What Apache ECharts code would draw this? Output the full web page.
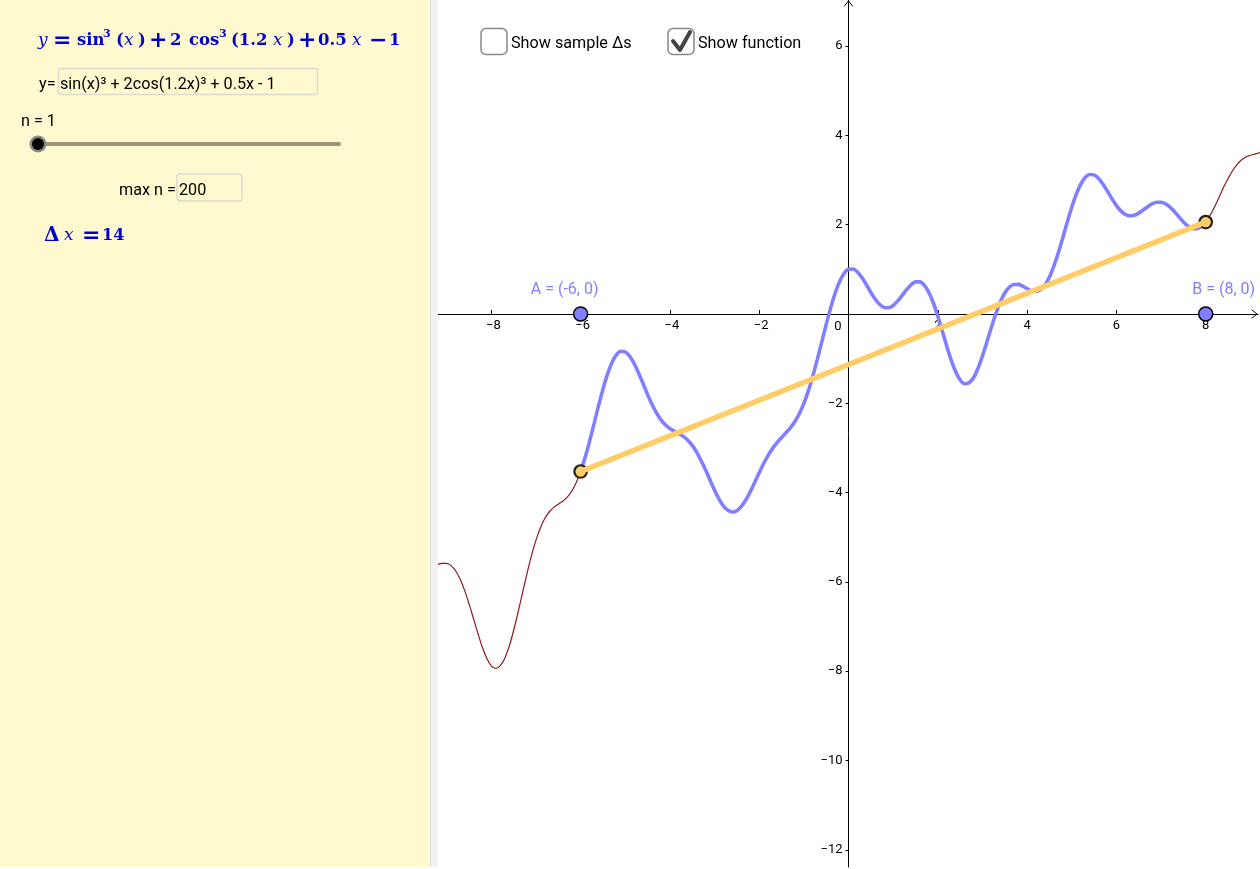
<!DOCTYPE html>
<html>
<head>
<meta charset="utf-8">
<style>html,body{margin:0;padding:0;background:#fff}#c{width:1260px;height:869px}</style>
<script src="https://cdn.jsdelivr.net/npm/echarts@6/dist/echarts.min.js"></script>
</head>
<body>
<div id="c"></div>
<script>
// Values
const xs = [-9.3,-9.2,-9.1,-9,-8.9,-8.8,-8.7,-8.6,-8.5,-8.4,-8.3,-8.2,-8.1,-8,-7.9,-7.8,-7.7,-7.6,-7.5,-7.4,-7.3,-7.2,-7.1,-7,
 -6.9,-6.8,-6.7,-6.6,-6.5,-6.4,-6.3,-6.2,-6.1,-6,-5.9,-5.8,-5.7,-5.6,-5.5,-5.4,-5.3,-5.2,-5.1,-5,
 -4.9,-4.8,-4.7,-4.6,-4.5,-4.4,-4.3,-4.2,-4.1,-4,-3.9,-3.8,-3.7,-3.6,-3.5,-3.4,-3.3,-3.2,-3.1,-3,
 -2.9,-2.8,-2.7,-2.6,-2.5,-2.4,-2.3,-2.2,-2.1,-2,-1.9,-1.8,-1.7,-1.6,-1.5,-1.4,-1.3,-1.2,-1.1,-1,
 -0.9,-0.8,-0.7,-0.6,-0.5,-0.4,-0.3,-0.2,-0.1,0,
 0.1,0.2,0.3,0.4,0.5,0.6,0.7,0.8,0.9,1,1.1,1.2,1.3,1.4,1.5,1.6,1.7,1.8,1.9,2,
 2.1,2.2,2.3,2.4,2.5,2.6,2.7,2.8,2.9,3,3.1,3.2,3.3,3.4,3.5,3.6,3.7,3.8,3.9,4,
 4.1,4.2,4.3,4.4,4.5,4.6,4.7,4.8,4.9,5,5.1,5.2,5.3,5.4,5.5,5.6,5.7,5.8,5.9,6,
 6.1,6.2,6.3,6.4,6.5,6.6,6.7,6.8,6.9,7,7.1,7.2,7.3,7.4,7.5,7.6,7.7,7.8,7.9,8,
 8.1,8.2,8.3,8.4,8.5,8.6,8.7,8.8,8.9,9,9.1,9.2,9.3];
const ys = [-5.643,-5.611,-5.584,-5.585,-5.636,-5.75,-5.937,-6.185,-6.488,-6.821,-7.155,-7.465,-7.714,-7.879,-7.938,-7.877,-7.714,-7.444,-7.088,-6.677,-6.24,-5.81,-5.408,-5.064,
 -4.785,-4.575,-4.429,-4.331,-4.26,-4.192,-4.101,-3.969,-3.779,-3.528,-3.215,-2.853,-2.46,-2.06,-1.683,-1.352,-1.09,-0.917,-0.835,-0.847,
 -0.946,-1.112,-1.326,-1.561,-1.805,-2.029,-2.218,-2.371,-2.484,-2.565,-2.625,-2.678,-2.74,-2.826,-2.943,-3.095,-3.287,-3.496,-3.722,-3.946,
 -4.145,-4.305,-4.397,-4.436,-4.405,-4.31,-4.166,-3.978,-3.768,-3.554,-3.348,-3.167,-3.01,-2.879,-2.766,-2.66,-2.545,-2.406,-2.227,-2.001,
 -1.722,-1.392,-1.022,-0.63,-0.236,0.137,0.464,0.725,0.906,1,
 1.008,0.941,0.816,0.655,0.484,0.33,0.212,0.146,0.14,0.191,0.289,0.414,0.545,0.654,0.72,0.719,0.64,0.481,0.246,-0.05,
 -0.382,-0.72,-1.036,-1.294,-1.477,-1.562,-1.541,-1.429,-1.217,-0.94,-0.622,-0.296,0.005,0.271,0.471,0.6,0.662,0.664,0.625,0.567,
 0.52,0.505,0.544,0.647,0.827,1.077,1.374,1.71,2.058,2.389,2.677,2.903,3.056,3.124,3.115,3.036,2.906,2.747,2.581,2.428,
 2.309,2.229,2.199,2.212,2.26,2.329,2.403,2.467,2.503,2.504,2.466,2.393,2.29,2.175,2.062,1.97,1.916,1.909,1.956,2.059,
 2.21,2.401,2.613,2.838,3.03,3.207,3.347,3.45,3.516,3.555,3.582,3.611,3.661];
const intervalStart = -6;
const intervalEnd = 8;
const startY = -3.528;
const endY = 2.059;
const xTicks = [-8,-6,-4,-2,2,4,6,8];
const yTicks = [-12,-10,-8,-6,-4,-2,2,4,6];
const axisPoints = [["A = (-6, 0)",-6,0],["B = (8, 0)",8,0]];

const curve = xs.map((x,i)=>[x,ys[i]]);
const sampled = curve.filter(p=>p[0]>=intervalStart && p[0]<=intervalEnd);

const RB = 'Roboto, sans-serif';
const SERIF = '"DejaVu Serif", serif';
const BLUE = '#0000cc';
function txt(x,y,s,o){o=o||{};return {type:'text',x:x,y:y+2,z:50,silent:true,style:{text:s,fill:o.fill||'#000',
  font:(o.style||'')+' '+(o.weight||'')+' '+(o.size||16.2)+'px '+(o.family||RB),verticalAlign:'middle',align:o.align||'left'}};}
function m(x,s,o){return txt(x,o&&o.y||39,s,Object.assign({fill:BLUE,family:SERIF,weight:'bold',size:16.5},o||{}));}
function mi(x,s,o){return m(x,s,Object.assign({style:'italic',weight:'normal',size:17},o||{}));}
function op(x,s,o){return m(x,s,Object.assign({size:22},o||{}));}
function box(x,y,w,h,r,st,lw){return {type:'rect',z:45,silent:true,shape:{x:x,y:y,width:w,height:h,r:r},style:{fill:'rgba(0,0,0,0)',stroke:st,lineWidth:lw}};}
function pl(points,st,lw,z){return {type:'polyline',z:z||46,silent:true,shape:{points:points},style:{stroke:st,lineWidth:lw,fill:'none',lineCap:'round',lineJoin:'round'}};}

const graphics = [
 {type:'rect',z:40,silent:true,shape:{x:0,y:0,width:430,height:867},style:{fill:'#fff9cf'}},
 {type:'rect',z:40,silent:true,shape:{x:430,y:0,width:8,height:867},style:{fill:'#f2f2f2'}},
 {type:'rect',z:41,silent:true,shape:{x:430,y:0,width:1,height:867},style:{fill:'#dcdcdc'}},
 // formula
 mi(38,'y'), op(53,'='), m(77,'sin'), m(103,'3',{size:11,y:32}), m(116,'('), mi(124,'x'), m(138,')'), op(149,'+'),
 m(170,'2'), m(189,'cos'), m(219,'3',{size:11,y:32}), m(231,'(1.2'), mi(273,'x'), m(287,')'), op(298,'+'),
 m(318,'0.5'), mi(352,'x'), op(369,'\u2212'), m(389,'1'),
 // input row
 txt(39,83,'y='), box(58.5,68.5,259,26,3,'#dcdcd0',1.5), txt(60,83,'sin(x)\u00b3 + 2cos(1.2x)\u00b3 + 0.5x - 1'),
 txt(21,120,'n = 1'),
 // slider
 pl([[38,144],[339,144]],'#99957a',4),
 {type:'circle',z:47,silent:true,shape:{cx:38,cy:144,r:8.5},style:{fill:'#8a8a80'}},
 {type:'circle',z:48,silent:true,shape:{cx:38,cy:144,r:6},style:{fill:'#000'}},
 // max n
 txt(119,189,'max n ='), box(177,174,65,27,3,'#dcdcd0',1.5), txt(179,189,'200'),
 // delta x
 m(44,'\u0394',{y:234,size:20}), mi(64,'x',{y:234}), op(82,'=',{y:234}), m(102,'14',{y:234,size:16}),
 // checkboxes
 box(481,28.5,26,26,5,'#888',1.5), txt(511,42,'Show sample \u0394s'),
 box(668,28.5,26,26,5,'#888',1.5), pl([[673,41],[680,50],[690,32]],'#444',4), txt(698,42,'Show function'),
 // zero label
 txt(838,325,'0',{size:13,align:'center'}),
 // axis arrows
 pl([[844.5,6],[848.5,1],[852.5,6]],'#000',1), pl([[1252,310],[1257,314],[1252,318]],'#000',1)
];

const minus = v => String(v).replace('-','\u2212');
const chart = echarts.init(document.getElementById('c'),null,{renderer:'canvas'});
chart.setOption({
 animation:false,
 backgroundColor:'#fff',
 grid:{left:438,top:0,width:820,height:867,containLabel:false,outerBoundsMode:'none'},
 xAxis:{type:'value',min:-9.194,max:9.171,position:'bottom',offset:-553,
  axisLine:{onZero:false,lineStyle:{color:'#000',width:1}},
  axisTick:{inside:true,length:4,customValues:xTicks,lineStyle:{color:'#000'}},
  axisLabel:{customValues:xTicks,margin:5,color:'#000',fontSize:13,fontFamily:RB,
   formatter:v=>v<0?'{n|'+minus(v)+'}':String(v),
   rich:{n:{padding:[0,0,0,4],color:'#000',fontSize:13,fontFamily:RB}}},
  splitLine:{show:false}},
 yAxis:{type:'value',min:-12.385,max:7.032,position:'left',offset:-410.5,
  axisLine:{onZero:false,lineStyle:{color:'#000',width:1}},
  axisTick:{length:3,customValues:yTicks,lineStyle:{color:'#000'}},
  axisLabel:{customValues:yTicks,margin:6,padding:[2,0,0,0],color:'#000',fontSize:13,fontFamily:RB,formatter:minus},
  splitLine:{show:false}},
 graphic:graphics,
 series:[
  {type:'line',name:'function',data:curve,smooth:0.33,showSymbol:false,z:2,lineStyle:{color:'#8b1a1a',width:1.2}},
  {type:'line',name:'sampled',data:sampled,smooth:0.33,showSymbol:false,z:3,lineStyle:{color:'#8080ff',width:3.6}},
  {type:'scatter',name:'endpoints',data:[[intervalStart,startY],[intervalEnd,endY]],symbolSize:12.5,z:4,
   itemStyle:{color:'#ffcc66',borderColor:'#222',borderWidth:2.2,opacity:1}},
  {type:'line',name:'chord',data:[[intervalStart,startY],[intervalEnd,endY]],showSymbol:false,z:5,
   lineStyle:{color:'#ffcc66',width:5.5,cap:'round'}},
  {type:'scatter',name:'axis points',data:axisPoints.map(p=>({name:p[0],value:[p[1],p[2]]})),symbolSize:14,z:6,
   itemStyle:{color:'#8080ff',borderColor:'#000',borderWidth:1.5,opacity:1},
   label:{show:true,position:'top',distance:8,color:'#8080ff',fontSize:16,fontFamily:RB,
    formatter:p=>p.name},
   labelLayout:p=>({dx:p.dataIndex===0?-16:18})}
 ]
});
</script>
</body>
</html>
